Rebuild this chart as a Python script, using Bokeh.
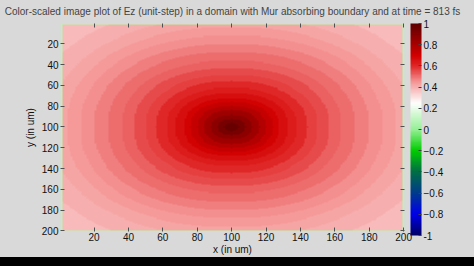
import numpy as np
from bokeh.plotting import figure
from bokeh.models import (LinearColorMapper, ColorBar, FixedTicker, Range1d,
                          LinearAxis, Div)
from bokeh.layouts import column
from bokeh.embed import file_html
from bokeh.resources import INLINE

# ---------------- data ----------------
title_text = ("Color-scaled image plot of Ez (unit-step) in a domain with Mur "
              "absorbing boundary and at time = 813 fs")
n_cells = 200
center_x = 100
center_y = 100
# band edges in normalised distance from the centre and band values (Ez)
band_edges = [0.04, 0.08, 0.12, 0.16, 0.20, 0.24, 0.28, 0.33, 0.38, 0.44,
              0.50, 0.57, 0.64, 0.72, 0.80, 0.88, 0.96, 1.05, 1.18]
band_values = [0.97, 0.93, 0.88, 0.83, 0.78, 0.73, 0.69, 0.66, 0.63, 0.60,
               0.57, 0.55, 0.52, 0.50, 0.48, 0.46, 0.44, 0.42, 0.40, 0.38]
boundary_value = 0.08
axis_ticks = [20, 40, 60, 80, 100, 120, 140, 160, 180, 200]
cbar_ticks = [-1, -0.8, -0.6, -0.4, -0.2, 0, 0.2, 0.4, 0.6, 0.8, 1]

# ---------------- colour map (style) ----------------
cm_pos = [-1.0, -0.8, -0.6, -0.4, -0.2, 0.0, 0.25, 0.45, 0.6, 0.7, 1.0]
cm_rgb = [(0, 0, 100), (0, 0, 235), (0, 60, 140), (0, 110, 70), (0, 205, 0),
          (150, 240, 150), (255, 255, 255), (245, 150, 150), (225, 40, 40),
          (210, 0, 0), (95, 0, 0)]
t = np.linspace(-1, 1, 256)
chan = [np.interp(t, cm_pos, [c[k] for c in cm_rgb]) for k in range(3)]
palette = ["#%02x%02x%02x" % (int(r), int(g), int(b)) for r, g, b in zip(*chan)]

# ---------------- field from banded profile ----------------
ix = np.arange(1, n_cells + 1)
X, Y = np.meshgrid(ix, ix)
pw = 2.2
R = ((np.abs(X - center_x) / 100.0) ** pw + (np.abs(Y - center_y) / 100.0) ** pw) ** (1.0 / pw)
Z = np.array(band_values)[np.digitize(R, band_edges)]
Z[0, :] = boundary_value
Z[-1, :] = boundary_value
Z[:, 0] = boundary_value
Z[:, -1] = boundary_value

bg = "#d9d9d9"
font = "Liberation Sans"

p = figure(width=474, height=257, output_backend="svg", toolbar_location=None,
           x_range=Range1d(0.5, 200.5), y_range=Range1d(200.5, 0.5),
           min_border_left=60, min_border_right=70, min_border_top=23,
           min_border_bottom=22, border_fill_color=bg, background_fill_color=bg,
           outline_line_color=None, tools="")
p.title.text = title_text
p.title.text_font = font
p.title.text_font_size = "10px"
p.title.text_font_style = "normal"
p.title.align = "center"
p.title.vertical_align = "top"
p.title.standoff = 10

mapper = LinearColorMapper(palette=palette, low=-1, high=1)
p.image(image=[Z], x=0.5, y=0.5, dw=200, dh=200, color_mapper=mapper)

p.grid.visible = False
for ax in (p.xaxis[0], p.yaxis[0]):
    ax.ticker = FixedTicker(ticks=axis_ticks)
    ax.major_tick_in = 4
    ax.major_tick_out = 0
    ax.minor_tick_line_color = None
    ax.axis_line_color = None
    ax.major_tick_line_color = "#505050"
    ax.major_label_text_font = font
    ax.major_label_text_font_size = "10px"
    ax.major_label_text_color = "#111111"
    ax.axis_label_text_font = font
    ax.axis_label_text_font_size = "10px"
    ax.axis_label_text_font_style = "normal"
    ax.axis_label_text_color = "#111111"
p.xaxis.axis_label = "x (in um)"
p.yaxis.axis_label = "y (in um)"
p.xaxis.major_label_standoff = 1
p.xaxis.axis_label_standoff = 0
p.yaxis.major_label_standoff = 2
p.yaxis.axis_label_standoff = 3

for loc in ("above", "right"):
    a = LinearAxis(ticker=FixedTicker(ticks=axis_ticks), major_tick_in=4,
                   major_tick_out=0, minor_tick_line_color=None,
                   axis_line_color=None, major_tick_line_color="#505050",
                   major_label_text_font_size="10px", major_label_standoff=0,
                   major_label_overrides={tk: "" for tk in axis_ticks})
    p.add_layout(a, loc)

cb = ColorBar(color_mapper=mapper, ticker=FixedTicker(ticks=cbar_ticks),
              width=11, height=212, padding=0, margin=0, location=(350, -4),
              bar_line_color=None,
              background_fill_color=None, border_line_color=None,
              major_tick_in=3, major_tick_out=0, major_tick_line_color="#404040",
              minor_tick_line_color=None, label_standoff=2,
              major_label_text_font=font, major_label_text_font_size="10px",
              major_label_text_color="#111111",
              major_label_overrides={1: "1", 0: "0", -1: "-1"})
p.add_layout(cb, "center")

black = Div(text="", width=474, height=9,
            styles={"background-color": "black", "margin": "0"})

layout = column(p, black, spacing=0, styles={"background-color": bg})
open("out.html", "w").write(file_html(layout, INLINE))
